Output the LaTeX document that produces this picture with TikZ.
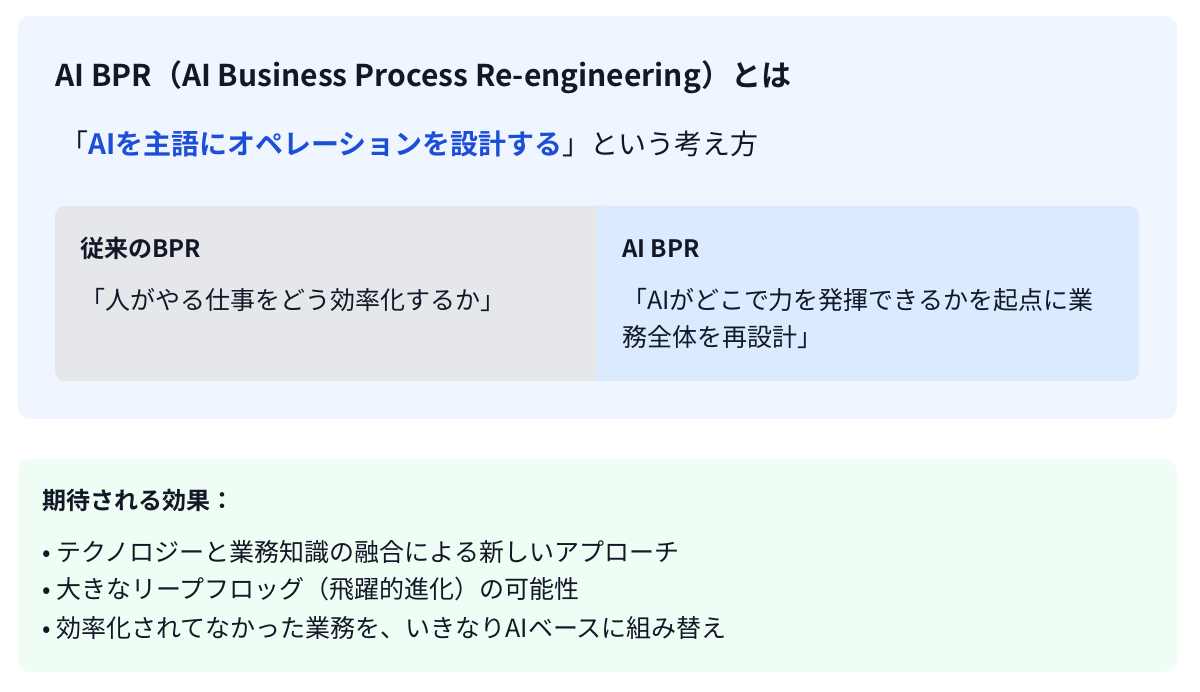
\documentclass[tikz,border=0pt]{standalone}
\usepackage{fontspec}
\setmainfont{Noto Sans CJK JP}[BoldFont={Noto Sans CJK JP Bold}]
\definecolor{panelblue}{HTML}{EFF6FF}
\definecolor{panelgreen}{HTML}{F0FDF4}
\definecolor{boxgrey}{HTML}{E5E7EB}
\definecolor{boxblue}{HTML}{DBEAFE}
\definecolor{accent}{HTML}{1D4ED8}
\definecolor{ink}{HTML}{111827}
\begin{document}
\begin{tikzpicture}[x=1pt,y=-1pt,
  txt/.style={anchor=base west,inner sep=0pt,text=ink},
  big/.style={txt,font=\fontsize{28}{32}\selectfont},
  mid/.style={txt,font=\fontsize{25}{30}\selectfont},
  head/.style={txt,font=\fontsize{24}{28}\selectfont\bfseries}]
\useasboundingbox (0,0) rectangle (1200,692);
\fill[white] (0,0) rectangle (1200,692);
\fill[panelblue,rounded corners=12pt] (18,16) rectangle (1177,419);
\fill[panelgreen,rounded corners=12pt] (18,459) rectangle (1177,672);
\fill[boxgrey,rounded corners=10pt] (55,206) rectangle (620,381);
\fill[boxblue,rounded corners=10pt] (580,206) rectangle (1139,381);
\fill[boxblue] (597,206) rectangle (620,381);
\fill[boxgrey] (580,206) rectangle (597,381);
\node[txt,font=\fontsize{30}{34}\selectfont\bfseries] (title) at (55,87) {AI BPR（AI Business Process Re-engineering）とは};
\node[big] (sub) at (60,155) {「\textbf{\color{accent}AIを主語にオペレーションを設計する}」という考え方};
\node[head] (lh) at (80,258) {従来のBPR};
\node[mid] (lt) at (80,310) {「人がやる仕事をどう効率化するか」};
\node[head] (rh) at (622,258) {AI BPR};
\node[mid] (rt1) at (622,310) {「AIがどこで力を発揮できるかを起点に業};
\node[mid] (rt2) at (622,347) {務全体を再設計」};
\node[head] (eh) at (42,509) {期待される効果：};
\node[mid] (b1) at (42,561) {• テクノロジーと業務知識の融合による新しいアプローチ};
\node[mid] (b2) at (42,598) {• 大きなリープフロッグ（飛躍的進化）の可能性};
\node[mid] (b3) at (42,637) {• 効率化されてなかった業務を、いきなりAIベースに組み替え};
\end{tikzpicture}
\end{document}
